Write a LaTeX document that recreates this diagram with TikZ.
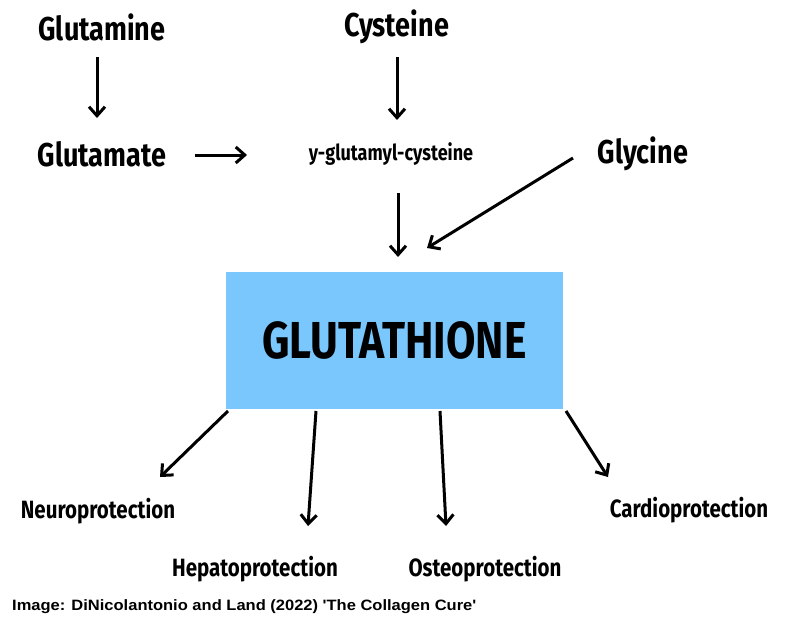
\documentclass[tikz,border=0pt]{standalone}
\usepackage{fontspec}
\setmainfont{Fira Sans}[FakeStretch=0.82]
\newfontfamily\capfont{Liberation Sans}[FakeStretch=1.1]
\usetikzlibrary{arrows.meta}
\definecolor{boxblue}{HTML}{79C7FD}
\tikzset{
 lbl/.style={font=\fontsize{33}{36}\selectfont\bfseries, inner sep=0pt},
 slbl/.style={font=\fontsize{25}{28}\selectfont\bfseries, inner sep=0pt},
 mlbl/.style={font=\fontsize{22}{26}\selectfont\bfseries, inner sep=0pt},
 arr/.style={line width=3pt, -{Straight Barb[length=9pt,width=16pt,line width=3pt]}}
}
\begin{document}
\begin{tikzpicture}[x=1pt,y=-1pt]
\useasboundingbox (0,0) rectangle (807,629);
\node[lbl] (gln) at (102,27) {Glutamine};
\node[lbl] (cys) at (397,27) {Cysteine};
\node[lbl] (glu) at (102,154) {Glutamate};
\node[mlbl] (ygc) at (391,154) {y-glutamyl-cysteine};
\node[lbl] (gly) at (643,154) {Glycine};
\node[fill=boxblue, minimum width=337pt, minimum height=137pt, inner sep=0pt,
 font=\fontsize{52}{56}\selectfont\bfseries] (gsh) at (394.5,340.5) {GLUTATHIONE};
\node[slbl] (neu) at (98,511) {Neuroprotection};
\node[slbl] (hep) at (255,569) {Hepatoprotection};
\node[slbl] (ost) at (485,569) {Osteoprotection};
\node[slbl] (car) at (689,510) {Cardioprotection};
\node[anchor=west, inner sep=0pt, font=\capfont\fontsize{15}{17}\selectfont\bfseries] (cap) at (12,607) {Image: DiNicolantonio and Land (2022) 'The Collagen Cure'};
\draw[arr] (97,57) -- (97,118);
\draw[arr] (397,57) -- (397,120);
\draw[arr] (195,155) -- (247,155);
\draw[arr] (398,193) -- (398,257);
\draw[arr] (573,158) -- (427,248);
\draw[arr] (228,411) -- (160,477);
\draw[arr] (316,411) -- (308,526);
\draw[arr] (440,411) -- (446,526);
\draw[arr] (566,411) -- (608,477);
\end{tikzpicture}
\end{document}
